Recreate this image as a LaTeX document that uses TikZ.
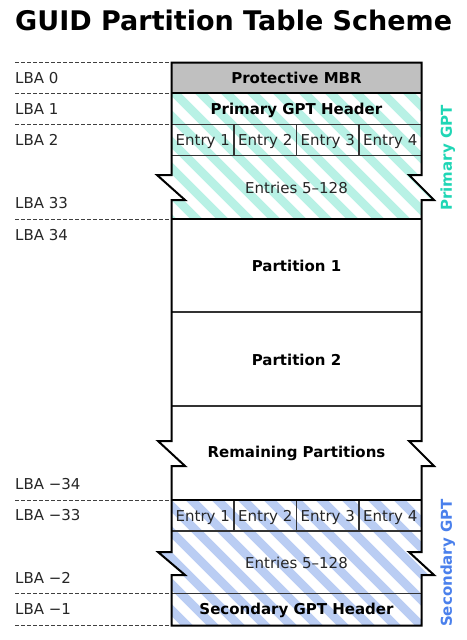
\documentclass[tikz,border=0pt]{standalone}
\usepackage{fontspec}
\setmainfont{DejaVu Sans}
\usepackage{tikz}

\definecolor{gptcyan}{HTML}{1FD6B5}
\definecolor{stripecyan}{HTML}{B8F1E5}
\definecolor{gptblue}{HTML}{4A80EC}
\definecolor{stripeblue}{HTML}{BACDF3}
\definecolor{mbrgray}{HTML}{C0C0C0}

\newcommand{\lbasize}{\fontsize{15}{18}\selectfont}

\tikzset{
  txt/.style={inner sep=0pt, text height=10.9pt, text depth=0pt, font=\lbasize},
  lba/.style={txt, anchor=west, text=black!85},
  blk/.style={txt, font=\lbasize\bfseries},
  cell/.style={txt, text=black!85},
  side/.style={txt, font=\lbasize\bfseries, rotate=90},
  lbaline/.style={black!75, line width=0.9pt, dash pattern=on 4pt off 2pt},
  inner/.style={black!80, line width=1.1pt},
  outer/.style={black, line width=2pt, line join=miter},
  stripe/.style={line width=8.5pt}
}

\begin{document}
\begin{tikzpicture}[x=1pt,y=-1pt]
  \useasboundingbox[fill=white] (0,0) rectangle (466,640);

  % Title
  \node[txt, anchor=west, font=\fontsize{27}{32}\selectfont\bfseries,
        text height=19.7pt] (title) at (15,21) {GUID Partition Table Scheme};

  % LBA guide lines
  \foreach \y in {62.5,93,124.5,219,500,593.5,625.7}
    \draw[lbaline] (15,\y) -- (171.5,\y);

  % LBA labels
  \node[lba] (lba0) at (15,78) {LBA 0};
  \node[lba] (lba1) at (15,109) {LBA 1};
  \node[lba] (lba2) at (15,140) {LBA 2};
  \node[lba] (lba33) at (15,203) {LBA 33};
  \node[lba] (lba34) at (15,235) {LBA 34};
  \node[lba] (lbam34) at (15,484) {LBA −34};
  \node[lba] (lbam33) at (15,515) {LBA −33};
  \node[lba] (lbam2) at (15,578) {LBA −2};
  \node[lba] (lbam1) at (15,609) {LBA −1};

  % Protective MBR
  \fill[mbrgray] (171.5,62.5) rectangle (421.5,93);

  % Primary GPT stripes
  \begin{scope}
    \clip (171.5,93) -- (421.5,93) -- (421.5,175) -- (409,175) -- (434,200)
      -- (421.5,200) -- (421.5,219) -- (171.5,219) -- (171.5,200)
      -- (185,200) -- (157,175) -- (171.5,175) -- cycle;
    \foreach \s in {-306.5,-280.5,...,460}
      \draw[stripe, stripecyan] (\s,80) -- ++(160,160);
  \end{scope}

  % Secondary GPT stripes
  \begin{scope}
    \clip (171.5,500) -- (421.5,500) -- (421.5,552) -- (409,552) -- (434,575)
      -- (421.5,575) -- (421.5,625.7) -- (171.5,625.7) -- (171.5,575)
      -- (185,575) -- (158,552) -- (171.5,552) -- cycle;
    \foreach \s in {-312.5,-286.5,...,460}
      \draw[stripe, stripeblue] (\s,490) -- ++(150,150);
  \end{scope}

  % Inner rules
  \foreach \y in {124.5,155.5,312,406,531,593.5}
    \draw[inner] (171.5,\y) -- (421.5,\y);
  \foreach \x in {234,296.5,359} {
    \draw[inner] (\x,124.5) -- (\x,155.5);
    \draw[inner] (\x,500) -- (\x,531);
  }
  \foreach \y in {93,219,500}
    \draw[outer] (171.5,\y) -- (421.5,\y);

  % Outline with breaks
  \draw[outer] (171.5,62.5) -- (421.5,62.5)
    -- (421.5,175) -- (409,175) -- (434,200) -- (421.5,200)
    -- (421.5,441) -- (409,441) -- (434,466) -- (421.5,466)
    -- (421.5,552) -- (409,552) -- (434,575) -- (421.5,575)
    -- (421.5,625.7) -- (171.5,625.7)
    -- (171.5,575) -- (185,575) -- (158,552) -- (171.5,552)
    -- (171.5,466) -- (185,466) -- (158,441) -- (171.5,441)
    -- (171.5,200) -- (185,200) -- (157,175) -- (171.5,175)
    -- cycle;

  % Block texts
  \node[blk] (mbr) at (296.5,78) {Protective MBR};
  \node[blk] (phdr) at (296.5,109) {Primary GPT Header};
  \node[cell] (pe1) at (202.75,140) {Entry 1};
  \node[cell] (pe2) at (265.25,140) {Entry 2};
  \node[cell] (pe3) at (327.75,140) {Entry 3};
  \node[cell] (pe4) at (390.25,140) {Entry 4};
  \node[cell] (prest) at (296.5,188.5) {Entries 5–128};
  \node[blk] (part1) at (296.5,266) {Partition 1};
  \node[blk] (part2) at (296.5,360.5) {Partition 2};
  \node[blk] (rest) at (296.5,452) {Remaining Partitions};
  \node[cell] (se1) at (202.75,516.5) {Entry 1};
  \node[cell] (se2) at (265.25,516.5) {Entry 2};
  \node[cell] (se3) at (327.75,516.5) {Entry 3};
  \node[cell] (se4) at (390.25,516.5) {Entry 4};
  \node[cell] (srest) at (296.5,563.5) {Entries 5–128};
  \node[blk] (shdr) at (296.5,609.5) {Secondary GPT Header};

  % Side labels
  \node[side, text=gptcyan] (pgpt) at (446.5,158) {Primary GPT};
  \node[side, text=gptblue] (sgpt) at (446.5,563) {Secondary GPT};
\end{tikzpicture}
\end{document}
